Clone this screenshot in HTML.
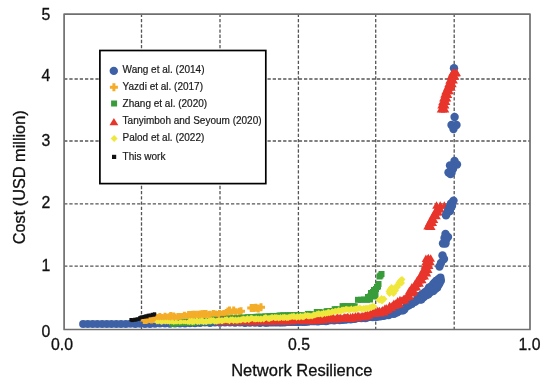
<!DOCTYPE html>
<html><head><meta charset="utf-8"><style>
html,body{margin:0;padding:0;background:#fff;}
svg{display:block;}
</style></head><body>
<svg width="550" height="387" viewBox="0 0 550 387">
<rect width="550" height="387" fill="#fff"/>
<g stroke="#555" stroke-width="1.3" stroke-dasharray="3.3 1.915">
<line x1="64.1" y1="79.0" x2="530.0" y2="79.0"/>
<line x1="64.1" y1="141.0" x2="530.0" y2="141.0"/>
<line x1="64.1" y1="203.8" x2="530.0" y2="203.8"/>
<line x1="64.1" y1="266.2" x2="530.0" y2="266.2"/>
<line x1="141.5" y1="14.1" x2="141.5" y2="329.5" stroke-dashoffset="0.35"/>
<line x1="220.0" y1="14.1" x2="220.0" y2="329.5" stroke-dashoffset="0.35"/>
<line x1="298.4" y1="14.1" x2="298.4" y2="329.5" stroke-dashoffset="0.35"/>
<line x1="375.7" y1="14.1" x2="375.7" y2="329.5" stroke-dashoffset="0.35"/>
<line x1="454.2" y1="14.1" x2="454.2" y2="329.5" stroke-dashoffset="0.35"/>
</g>
<g>
<circle cx="83.1" cy="323.9" r="4.0" fill="#3e61a6"/>
<circle cx="87.8" cy="323.9" r="4.0" fill="#3e61a6"/>
<circle cx="92.6" cy="323.9" r="4.0" fill="#3e61a6"/>
<circle cx="97.3" cy="323.9" r="4.0" fill="#3e61a6"/>
<circle cx="102.1" cy="323.9" r="4.0" fill="#3e61a6"/>
<circle cx="106.8" cy="323.9" r="4.0" fill="#3e61a6"/>
<circle cx="111.5" cy="324.0" r="4.0" fill="#3e61a6"/>
<circle cx="116.3" cy="323.9" r="4.0" fill="#3e61a6"/>
<circle cx="121.0" cy="324.0" r="4.0" fill="#3e61a6"/>
<circle cx="125.8" cy="323.9" r="4.0" fill="#3e61a6"/>
<circle cx="130.5" cy="323.8" r="4.0" fill="#3e61a6"/>
<circle cx="135.3" cy="323.9" r="4.0" fill="#3e61a6"/>
<circle cx="140.0" cy="323.8" r="4.0" fill="#3e61a6"/>
<circle cx="145.0" cy="323.9" r="4.0" fill="#3e61a6"/>
<circle cx="150.0" cy="323.9" r="4.0" fill="#3e61a6"/>
<circle cx="155.0" cy="323.8" r="4.0" fill="#3e61a6"/>
<circle cx="160.0" cy="323.6" r="4.0" fill="#3e61a6"/>
<circle cx="165.0" cy="323.6" r="4.0" fill="#3e61a6"/>
<circle cx="170.0" cy="323.7" r="4.0" fill="#3e61a6"/>
<circle cx="175.0" cy="323.6" r="4.0" fill="#3e61a6"/>
<circle cx="180.0" cy="323.4" r="4.0" fill="#3e61a6"/>
<circle cx="185.0" cy="323.4" r="4.0" fill="#3e61a6"/>
<circle cx="190.0" cy="323.2" r="4.0" fill="#3e61a6"/>
<circle cx="195.0" cy="323.3" r="4.0" fill="#3e61a6"/>
<circle cx="200.0" cy="322.9" r="4.0" fill="#3e61a6"/>
<circle cx="205.0" cy="322.6" r="4.0" fill="#3e61a6"/>
<circle cx="210.0" cy="322.9" r="4.0" fill="#3e61a6"/>
<circle cx="215.0" cy="322.6" r="4.0" fill="#3e61a6"/>
<circle cx="220.0" cy="322.7" r="4.0" fill="#3e61a6"/>
<circle cx="225.0" cy="322.6" r="4.0" fill="#3e61a6"/>
<circle cx="230.0" cy="322.5" r="4.0" fill="#3e61a6"/>
<circle cx="235.0" cy="322.7" r="4.0" fill="#3e61a6"/>
<circle cx="240.0" cy="322.6" r="4.0" fill="#3e61a6"/>
<circle cx="245.0" cy="322.9" r="4.0" fill="#3e61a6"/>
<circle cx="250.0" cy="322.7" r="4.0" fill="#3e61a6"/>
<circle cx="255.0" cy="322.7" r="4.0" fill="#3e61a6"/>
<circle cx="260.0" cy="322.9" r="4.0" fill="#3e61a6"/>
<circle cx="265.0" cy="322.6" r="4.0" fill="#3e61a6"/>
<circle cx="265.2" cy="322.5" r="4.0" fill="#3e61a6"/>
<circle cx="266.7" cy="322.7" r="4.0" fill="#3e61a6"/>
<circle cx="268.3" cy="322.5" r="4.0" fill="#3e61a6"/>
<circle cx="270.2" cy="322.2" r="4.0" fill="#3e61a6"/>
<circle cx="271.9" cy="322.6" r="4.0" fill="#3e61a6"/>
<circle cx="273.7" cy="322.3" r="4.0" fill="#3e61a6"/>
<circle cx="275.6" cy="322.6" r="4.0" fill="#3e61a6"/>
<circle cx="277.2" cy="322.3" r="4.0" fill="#3e61a6"/>
<circle cx="279.3" cy="322.6" r="4.0" fill="#3e61a6"/>
<circle cx="281.3" cy="322.5" r="4.0" fill="#3e61a6"/>
<circle cx="282.7" cy="322.2" r="4.0" fill="#3e61a6"/>
<circle cx="284.6" cy="322.5" r="4.0" fill="#3e61a6"/>
<circle cx="286.7" cy="321.9" r="4.0" fill="#3e61a6"/>
<circle cx="288.0" cy="321.9" r="4.0" fill="#3e61a6"/>
<circle cx="289.8" cy="322.1" r="4.0" fill="#3e61a6"/>
<circle cx="291.8" cy="321.9" r="4.0" fill="#3e61a6"/>
<circle cx="293.3" cy="321.9" r="4.0" fill="#3e61a6"/>
<circle cx="295.3" cy="322.0" r="4.0" fill="#3e61a6"/>
<circle cx="297.4" cy="322.1" r="4.0" fill="#3e61a6"/>
<circle cx="298.9" cy="322.0" r="4.0" fill="#3e61a6"/>
<circle cx="300.8" cy="321.5" r="4.0" fill="#3e61a6"/>
<circle cx="302.7" cy="322.0" r="4.0" fill="#3e61a6"/>
<circle cx="304.5" cy="322.0" r="4.0" fill="#3e61a6"/>
<circle cx="306.0" cy="321.6" r="4.0" fill="#3e61a6"/>
<circle cx="307.6" cy="321.8" r="4.0" fill="#3e61a6"/>
<circle cx="309.4" cy="321.3" r="4.0" fill="#3e61a6"/>
<circle cx="311.3" cy="321.3" r="4.0" fill="#3e61a6"/>
<circle cx="313.1" cy="321.2" r="4.0" fill="#3e61a6"/>
<circle cx="314.7" cy="321.2" r="4.0" fill="#3e61a6"/>
<circle cx="316.5" cy="321.3" r="4.0" fill="#3e61a6"/>
<circle cx="318.2" cy="321.6" r="4.0" fill="#3e61a6"/>
<circle cx="320.4" cy="320.9" r="4.0" fill="#3e61a6"/>
<circle cx="321.9" cy="320.9" r="4.0" fill="#3e61a6"/>
<circle cx="323.7" cy="320.6" r="4.0" fill="#3e61a6"/>
<circle cx="325.8" cy="321.2" r="4.0" fill="#3e61a6"/>
<circle cx="327.3" cy="320.7" r="4.0" fill="#3e61a6"/>
<circle cx="328.9" cy="320.2" r="4.0" fill="#3e61a6"/>
<circle cx="330.8" cy="320.2" r="4.0" fill="#3e61a6"/>
<circle cx="332.8" cy="320.0" r="4.0" fill="#3e61a6"/>
<circle cx="334.1" cy="320.6" r="4.0" fill="#3e61a6"/>
<circle cx="336.2" cy="319.8" r="4.0" fill="#3e61a6"/>
<circle cx="338.0" cy="319.5" r="4.0" fill="#3e61a6"/>
<circle cx="339.7" cy="320.3" r="4.0" fill="#3e61a6"/>
<circle cx="341.7" cy="319.9" r="4.0" fill="#3e61a6"/>
<circle cx="343.1" cy="319.5" r="4.0" fill="#3e61a6"/>
<circle cx="344.8" cy="319.8" r="4.0" fill="#3e61a6"/>
<circle cx="346.9" cy="319.6" r="4.0" fill="#3e61a6"/>
<circle cx="348.6" cy="318.9" r="4.0" fill="#3e61a6"/>
<circle cx="350.7" cy="319.5" r="4.0" fill="#3e61a6"/>
<circle cx="352.5" cy="319.1" r="4.0" fill="#3e61a6"/>
<circle cx="354.4" cy="318.9" r="4.0" fill="#3e61a6"/>
<circle cx="355.8" cy="318.5" r="4.0" fill="#3e61a6"/>
<circle cx="357.7" cy="317.9" r="4.0" fill="#3e61a6"/>
<circle cx="359.4" cy="317.9" r="4.0" fill="#3e61a6"/>
<circle cx="361.4" cy="318.2" r="4.0" fill="#3e61a6"/>
<circle cx="363.6" cy="317.8" r="4.0" fill="#3e61a6"/>
<circle cx="365.4" cy="318.2" r="4.0" fill="#3e61a6"/>
<circle cx="367.3" cy="317.4" r="4.0" fill="#3e61a6"/>
<circle cx="368.7" cy="317.0" r="4.0" fill="#3e61a6"/>
<circle cx="370.5" cy="316.8" r="4.0" fill="#3e61a6"/>
<circle cx="372.6" cy="317.3" r="4.0" fill="#3e61a6"/>
<circle cx="374.6" cy="316.7" r="4.0" fill="#3e61a6"/>
<circle cx="376.4" cy="316.9" r="4.0" fill="#3e61a6"/>
<circle cx="377.9" cy="316.5" r="4.0" fill="#3e61a6"/>
<circle cx="380.2" cy="316.5" r="4.0" fill="#3e61a6"/>
<circle cx="381.9" cy="315.9" r="4.0" fill="#3e61a6"/>
<circle cx="383.2" cy="315.9" r="4.0" fill="#3e61a6"/>
<circle cx="385.0" cy="315.6" r="4.0" fill="#3e61a6"/>
<circle cx="387.1" cy="314.8" r="4.0" fill="#3e61a6"/>
<circle cx="388.5" cy="315.3" r="4.0" fill="#3e61a6"/>
<circle cx="390.4" cy="313.8" r="4.0" fill="#3e61a6"/>
<circle cx="391.8" cy="313.4" r="4.0" fill="#3e61a6"/>
<circle cx="393.8" cy="313.9" r="4.0" fill="#3e61a6"/>
<circle cx="394.9" cy="313.3" r="4.0" fill="#3e61a6"/>
<circle cx="397.0" cy="312.4" r="4.0" fill="#3e61a6"/>
<circle cx="398.2" cy="311.5" r="4.0" fill="#3e61a6"/>
<circle cx="399.6" cy="309.9" r="4.0" fill="#3e61a6"/>
<circle cx="401.7" cy="310.4" r="4.0" fill="#3e61a6"/>
<circle cx="403.0" cy="310.4" r="4.0" fill="#3e61a6"/>
<circle cx="404.5" cy="309.2" r="4.0" fill="#3e61a6"/>
<circle cx="406.2" cy="306.7" r="4.0" fill="#3e61a6"/>
<circle cx="407.4" cy="305.8" r="4.0" fill="#3e61a6"/>
<circle cx="408.8" cy="305.4" r="4.0" fill="#3e61a6"/>
<circle cx="410.4" cy="304.0" r="4.0" fill="#3e61a6"/>
<circle cx="411.8" cy="304.0" r="4.0" fill="#3e61a6"/>
<circle cx="413.4" cy="301.9" r="4.0" fill="#3e61a6"/>
<circle cx="414.8" cy="301.9" r="4.0" fill="#3e61a6"/>
<circle cx="416.0" cy="300.9" r="4.0" fill="#3e61a6"/>
<circle cx="417.3" cy="298.8" r="4.0" fill="#3e61a6"/>
<circle cx="418.5" cy="296.3" r="4.0" fill="#3e61a6"/>
<circle cx="419.7" cy="295.7" r="4.0" fill="#3e61a6"/>
<circle cx="420.7" cy="296.4" r="4.0" fill="#3e61a6"/>
<circle cx="422.2" cy="294.2" r="4.0" fill="#3e61a6"/>
<circle cx="423.9" cy="293.3" r="4.0" fill="#3e61a6"/>
<circle cx="425.1" cy="292.0" r="4.0" fill="#3e61a6"/>
<circle cx="426.6" cy="291.6" r="4.0" fill="#3e61a6"/>
<circle cx="427.8" cy="289.7" r="4.0" fill="#3e61a6"/>
<circle cx="429.0" cy="287.6" r="4.0" fill="#3e61a6"/>
<circle cx="430.6" cy="286.9" r="4.0" fill="#3e61a6"/>
<circle cx="431.6" cy="286.3" r="4.0" fill="#3e61a6"/>
<circle cx="433.0" cy="284.2" r="4.0" fill="#3e61a6"/>
<circle cx="434.1" cy="283.0" r="4.0" fill="#3e61a6"/>
<circle cx="435.1" cy="282.3" r="4.0" fill="#3e61a6"/>
<circle cx="436.2" cy="280.8" r="4.0" fill="#3e61a6"/>
<circle cx="437.4" cy="280.4" r="4.0" fill="#3e61a6"/>
<circle cx="438.6" cy="279.1" r="4.0" fill="#3e61a6"/>
<circle cx="440.5" cy="277.5" r="4.0" fill="#3e61a6"/>
<circle cx="420.3" cy="299.8" r="4.0" fill="#3e61a6"/>
<circle cx="421.4" cy="299.4" r="4.0" fill="#3e61a6"/>
<circle cx="422.9" cy="297.6" r="4.0" fill="#3e61a6"/>
<circle cx="423.8" cy="296.9" r="4.0" fill="#3e61a6"/>
<circle cx="425.1" cy="295.7" r="4.0" fill="#3e61a6"/>
<circle cx="426.4" cy="295.2" r="4.0" fill="#3e61a6"/>
<circle cx="428.2" cy="294.4" r="4.0" fill="#3e61a6"/>
<circle cx="429.4" cy="293.1" r="4.0" fill="#3e61a6"/>
<circle cx="431.3" cy="291.4" r="4.0" fill="#3e61a6"/>
<circle cx="433.0" cy="291.2" r="4.0" fill="#3e61a6"/>
<circle cx="434.2" cy="290.1" r="4.0" fill="#3e61a6"/>
<circle cx="435.9" cy="288.5" r="4.0" fill="#3e61a6"/>
<circle cx="437.3" cy="287.5" r="4.0" fill="#3e61a6"/>
<circle cx="437.8" cy="285.7" r="4.0" fill="#3e61a6"/>
<circle cx="439.0" cy="284.2" r="4.0" fill="#3e61a6"/>
<circle cx="439.8" cy="282.8" r="4.0" fill="#3e61a6"/>
<circle cx="441.0" cy="280.5" r="4.0" fill="#3e61a6"/>
<path d="M142.8 315.9h3v2.5h2.5v3h-2.5v2.5h-3v-2.5h-2.5v-3h2.5Z" fill="#f4ad28"/>
<path d="M144.6 315.9h3v2.5h2.5v3h-2.5v2.5h-3v-2.5h-2.5v-3h2.5Z" fill="#f4ad28"/>
<path d="M145.9 315.2h3v2.5h2.5v3h-2.5v2.5h-3v-2.5h-2.5v-3h2.5Z" fill="#f4ad28"/>
<path d="M148.6 315.0h3v2.5h2.5v3h-2.5v2.5h-3v-2.5h-2.5v-3h2.5Z" fill="#f4ad28"/>
<path d="M150.0 315.4h3v2.5h2.5v3h-2.5v2.5h-3v-2.5h-2.5v-3h2.5Z" fill="#f4ad28"/>
<path d="M152.8 315.1h3v2.5h2.5v3h-2.5v2.5h-3v-2.5h-2.5v-3h2.5Z" fill="#f4ad28"/>
<path d="M154.0 313.6h3v2.5h2.5v3h-2.5v2.5h-3v-2.5h-2.5v-3h2.5Z" fill="#f4ad28"/>
<path d="M155.9 314.0h3v2.5h2.5v3h-2.5v2.5h-3v-2.5h-2.5v-3h2.5Z" fill="#f4ad28"/>
<path d="M158.4 312.9h3v2.5h2.5v3h-2.5v2.5h-3v-2.5h-2.5v-3h2.5Z" fill="#f4ad28"/>
<path d="M160.8 314.0h3v2.5h2.5v3h-2.5v2.5h-3v-2.5h-2.5v-3h2.5Z" fill="#f4ad28"/>
<path d="M163.5 312.8h3v2.5h2.5v3h-2.5v2.5h-3v-2.5h-2.5v-3h2.5Z" fill="#f4ad28"/>
<path d="M164.9 313.8h3v2.5h2.5v3h-2.5v2.5h-3v-2.5h-2.5v-3h2.5Z" fill="#f4ad28"/>
<path d="M167.6 313.3h3v2.5h2.5v3h-2.5v2.5h-3v-2.5h-2.5v-3h2.5Z" fill="#f4ad28"/>
<path d="M169.2 312.0h3v2.5h2.5v3h-2.5v2.5h-3v-2.5h-2.5v-3h2.5Z" fill="#f4ad28"/>
<path d="M172.1 312.5h3v2.5h2.5v3h-2.5v2.5h-3v-2.5h-2.5v-3h2.5Z" fill="#f4ad28"/>
<path d="M173.6 313.4h3v2.5h2.5v3h-2.5v2.5h-3v-2.5h-2.5v-3h2.5Z" fill="#f4ad28"/>
<path d="M176.5 313.0h3v2.5h2.5v3h-2.5v2.5h-3v-2.5h-2.5v-3h2.5Z" fill="#f4ad28"/>
<path d="M178.0 313.0h3v2.5h2.5v3h-2.5v2.5h-3v-2.5h-2.5v-3h2.5Z" fill="#f4ad28"/>
<path d="M180.2 312.9h3v2.5h2.5v3h-2.5v2.5h-3v-2.5h-2.5v-3h2.5Z" fill="#f4ad28"/>
<path d="M182.9 311.7h3v2.5h2.5v3h-2.5v2.5h-3v-2.5h-2.5v-3h2.5Z" fill="#f4ad28"/>
<path d="M185.2 312.7h3v2.5h2.5v3h-2.5v2.5h-3v-2.5h-2.5v-3h2.5Z" fill="#f4ad28"/>
<path d="M187.1 311.0h3v2.5h2.5v3h-2.5v2.5h-3v-2.5h-2.5v-3h2.5Z" fill="#f4ad28"/>
<path d="M189.6 311.1h3v2.5h2.5v3h-2.5v2.5h-3v-2.5h-2.5v-3h2.5Z" fill="#f4ad28"/>
<path d="M191.4 310.8h3v2.5h2.5v3h-2.5v2.5h-3v-2.5h-2.5v-3h2.5Z" fill="#f4ad28"/>
<path d="M193.5 310.7h3v2.5h2.5v3h-2.5v2.5h-3v-2.5h-2.5v-3h2.5Z" fill="#f4ad28"/>
<path d="M196.1 310.8h3v2.5h2.5v3h-2.5v2.5h-3v-2.5h-2.5v-3h2.5Z" fill="#f4ad28"/>
<path d="M198.8 310.6h3v2.5h2.5v3h-2.5v2.5h-3v-2.5h-2.5v-3h2.5Z" fill="#f4ad28"/>
<path d="M200.6 310.3h3v2.5h2.5v3h-2.5v2.5h-3v-2.5h-2.5v-3h2.5Z" fill="#f4ad28"/>
<path d="M202.6 309.9h3v2.5h2.5v3h-2.5v2.5h-3v-2.5h-2.5v-3h2.5Z" fill="#f4ad28"/>
<path d="M204.6 309.9h3v2.5h2.5v3h-2.5v2.5h-3v-2.5h-2.5v-3h2.5Z" fill="#f4ad28"/>
<path d="M207.4 310.9h3v2.5h2.5v3h-2.5v2.5h-3v-2.5h-2.5v-3h2.5Z" fill="#f4ad28"/>
<path d="M208.8 310.7h3v2.5h2.5v3h-2.5v2.5h-3v-2.5h-2.5v-3h2.5Z" fill="#f4ad28"/>
<path d="M211.9 309.9h3v2.5h2.5v3h-2.5v2.5h-3v-2.5h-2.5v-3h2.5Z" fill="#f4ad28"/>
<path d="M213.9 310.5h3v2.5h2.5v3h-2.5v2.5h-3v-2.5h-2.5v-3h2.5Z" fill="#f4ad28"/>
<path d="M215.8 310.9h3v2.5h2.5v3h-2.5v2.5h-3v-2.5h-2.5v-3h2.5Z" fill="#f4ad28"/>
<path d="M218.0 309.9h3v2.5h2.5v3h-2.5v2.5h-3v-2.5h-2.5v-3h2.5Z" fill="#f4ad28"/>
<path d="M220.7 310.7h3v2.5h2.5v3h-2.5v2.5h-3v-2.5h-2.5v-3h2.5Z" fill="#f4ad28"/>
<path d="M222.3 309.9h3v2.5h2.5v3h-2.5v2.5h-3v-2.5h-2.5v-3h2.5Z" fill="#f4ad28"/>
<path d="M224.7 308.9h3v2.5h2.5v3h-2.5v2.5h-3v-2.5h-2.5v-3h2.5Z" fill="#f4ad28"/>
<path d="M226.4 307.5h3v2.5h2.5v3h-2.5v2.5h-3v-2.5h-2.5v-3h2.5Z" fill="#f4ad28"/>
<path d="M228.0 306.6h3v2.5h2.5v3h-2.5v2.5h-3v-2.5h-2.5v-3h2.5Z" fill="#f4ad28"/>
<path d="M230.0 308.4h3v2.5h2.5v3h-2.5v2.5h-3v-2.5h-2.5v-3h2.5Z" fill="#f4ad28"/>
<path d="M232.2 306.6h3v2.5h2.5v3h-2.5v2.5h-3v-2.5h-2.5v-3h2.5Z" fill="#f4ad28"/>
<path d="M234.3 308.2h3v2.5h2.5v3h-2.5v2.5h-3v-2.5h-2.5v-3h2.5Z" fill="#f4ad28"/>
<path d="M237.6 307.7h3v2.5h2.5v3h-2.5v2.5h-3v-2.5h-2.5v-3h2.5Z" fill="#f4ad28"/>
<path d="M239.5 307.3h3v2.5h2.5v3h-2.5v2.5h-3v-2.5h-2.5v-3h2.5Z" fill="#f4ad28"/>
<path d="M249.7 303.9h3v2.5h2.5v3h-2.5v2.5h-3v-2.5h-2.5v-3h2.5Z" fill="#f4ad28"/>
<path d="M252.1 304.0h3v2.5h2.5v3h-2.5v2.5h-3v-2.5h-2.5v-3h2.5Z" fill="#f4ad28"/>
<path d="M254.3 303.7h3v2.5h2.5v3h-2.5v2.5h-3v-2.5h-2.5v-3h2.5Z" fill="#f4ad28"/>
<path d="M256.8 304.6h3v2.5h2.5v3h-2.5v2.5h-3v-2.5h-2.5v-3h2.5Z" fill="#f4ad28"/>
<path d="M259.5 303.3h3v2.5h2.5v3h-2.5v2.5h-3v-2.5h-2.5v-3h2.5Z" fill="#f4ad28"/>
<rect x="169.5" y="320.5" width="6" height="6" fill="#399c3b"/>
<rect x="170.5" y="320.7" width="6" height="6" fill="#399c3b"/>
<rect x="172.4" y="320.2" width="6" height="6" fill="#399c3b"/>
<rect x="173.9" y="320.1" width="6" height="6" fill="#399c3b"/>
<rect x="176.2" y="320.1" width="6" height="6" fill="#399c3b"/>
<rect x="177.7" y="320.0" width="6" height="6" fill="#399c3b"/>
<rect x="179.3" y="319.7" width="6" height="6" fill="#399c3b"/>
<rect x="181.2" y="319.7" width="6" height="6" fill="#399c3b"/>
<rect x="182.9" y="319.3" width="6" height="6" fill="#399c3b"/>
<rect x="185.0" y="319.3" width="6" height="6" fill="#399c3b"/>
<rect x="187.1" y="319.5" width="6" height="6" fill="#399c3b"/>
<rect x="189.0" y="319.5" width="6" height="6" fill="#399c3b"/>
<rect x="190.7" y="319.6" width="6" height="6" fill="#399c3b"/>
<rect x="192.1" y="318.9" width="6" height="6" fill="#399c3b"/>
<rect x="194.5" y="318.5" width="6" height="6" fill="#399c3b"/>
<rect x="196.0" y="318.9" width="6" height="6" fill="#399c3b"/>
<rect x="197.0" y="319.0" width="6" height="6" fill="#399c3b"/>
<rect x="199.6" y="318.6" width="6" height="6" fill="#399c3b"/>
<rect x="201.2" y="318.7" width="6" height="6" fill="#399c3b"/>
<rect x="202.4" y="318.2" width="6" height="6" fill="#399c3b"/>
<rect x="204.5" y="318.4" width="6" height="6" fill="#399c3b"/>
<rect x="206.6" y="318.3" width="6" height="6" fill="#399c3b"/>
<rect x="208.1" y="318.2" width="6" height="6" fill="#399c3b"/>
<rect x="209.9" y="317.8" width="6" height="6" fill="#399c3b"/>
<rect x="211.2" y="316.7" width="6" height="6" fill="#399c3b"/>
<rect x="212.9" y="317.0" width="6" height="6" fill="#399c3b"/>
<rect x="214.6" y="317.6" width="6" height="6" fill="#399c3b"/>
<rect x="216.8" y="317.1" width="6" height="6" fill="#399c3b"/>
<rect x="218.6" y="317.1" width="6" height="6" fill="#399c3b"/>
<rect x="220.2" y="315.9" width="6" height="6" fill="#399c3b"/>
<rect x="222.3" y="316.9" width="6" height="6" fill="#399c3b"/>
<rect x="223.8" y="316.4" width="6" height="6" fill="#399c3b"/>
<rect x="225.7" y="315.6" width="6" height="6" fill="#399c3b"/>
<rect x="227.5" y="315.7" width="6" height="6" fill="#399c3b"/>
<rect x="228.6" y="315.6" width="6" height="6" fill="#399c3b"/>
<rect x="231.0" y="315.4" width="6" height="6" fill="#399c3b"/>
<rect x="232.7" y="316.3" width="6" height="6" fill="#399c3b"/>
<rect x="234.2" y="315.4" width="6" height="6" fill="#399c3b"/>
<rect x="236.0" y="315.6" width="6" height="6" fill="#399c3b"/>
<rect x="238.0" y="315.4" width="6" height="6" fill="#399c3b"/>
<rect x="239.6" y="314.7" width="6" height="6" fill="#399c3b"/>
<rect x="240.9" y="314.8" width="6" height="6" fill="#399c3b"/>
<rect x="243.2" y="314.7" width="6" height="6" fill="#399c3b"/>
<rect x="244.8" y="314.3" width="6" height="6" fill="#399c3b"/>
<rect x="246.1" y="314.4" width="6" height="6" fill="#399c3b"/>
<rect x="248.4" y="314.6" width="6" height="6" fill="#399c3b"/>
<rect x="250.2" y="314.2" width="6" height="6" fill="#399c3b"/>
<rect x="251.8" y="314.2" width="6" height="6" fill="#399c3b"/>
<rect x="253.5" y="313.8" width="6" height="6" fill="#399c3b"/>
<rect x="255.6" y="313.7" width="6" height="6" fill="#399c3b"/>
<rect x="257.5" y="314.1" width="6" height="6" fill="#399c3b"/>
<rect x="258.3" y="313.7" width="6" height="6" fill="#399c3b"/>
<rect x="260.8" y="313.9" width="6" height="6" fill="#399c3b"/>
<rect x="262.2" y="313.4" width="6" height="6" fill="#399c3b"/>
<rect x="263.8" y="313.7" width="6" height="6" fill="#399c3b"/>
<rect x="265.5" y="313.4" width="6" height="6" fill="#399c3b"/>
<rect x="267.2" y="313.2" width="6" height="6" fill="#399c3b"/>
<rect x="269.8" y="312.9" width="6" height="6" fill="#399c3b"/>
<rect x="271.4" y="313.1" width="6" height="6" fill="#399c3b"/>
<rect x="273.3" y="313.1" width="6" height="6" fill="#399c3b"/>
<rect x="274.4" y="313.1" width="6" height="6" fill="#399c3b"/>
<rect x="276.4" y="312.5" width="6" height="6" fill="#399c3b"/>
<rect x="277.7" y="312.7" width="6" height="6" fill="#399c3b"/>
<rect x="279.9" y="312.5" width="6" height="6" fill="#399c3b"/>
<rect x="281.3" y="312.4" width="6" height="6" fill="#399c3b"/>
<rect x="283.3" y="312.6" width="6" height="6" fill="#399c3b"/>
<rect x="284.7" y="312.4" width="6" height="6" fill="#399c3b"/>
<rect x="287.0" y="312.2" width="6" height="6" fill="#399c3b"/>
<rect x="290.2" y="312.2" width="6" height="6" fill="#399c3b"/>
<rect x="292.3" y="312.5" width="6" height="6" fill="#399c3b"/>
<rect x="294.2" y="312.3" width="6" height="6" fill="#399c3b"/>
<rect x="295.9" y="312.4" width="6" height="6" fill="#399c3b"/>
<rect x="298.3" y="312.4" width="6" height="6" fill="#399c3b"/>
<rect x="299.9" y="312.4" width="6" height="6" fill="#399c3b"/>
<rect x="304.9" y="310.9" width="6" height="6" fill="#399c3b"/>
<rect x="306.8" y="311.2" width="6" height="6" fill="#399c3b"/>
<rect x="308.9" y="311.3" width="6" height="6" fill="#399c3b"/>
<rect x="313.8" y="309.0" width="6" height="6" fill="#399c3b"/>
<rect x="316.0" y="309.0" width="6" height="6" fill="#399c3b"/>
<rect x="317.9" y="309.3" width="6" height="6" fill="#399c3b"/>
<rect x="323.7" y="308.2" width="6" height="6" fill="#399c3b"/>
<rect x="325.6" y="308.3" width="6" height="6" fill="#399c3b"/>
<rect x="327.8" y="308.1" width="6" height="6" fill="#399c3b"/>
<rect x="331.7" y="306.2" width="6" height="6" fill="#399c3b"/>
<rect x="333.7" y="306.4" width="6" height="6" fill="#399c3b"/>
<rect x="335.8" y="306.5" width="6" height="6" fill="#399c3b"/>
<rect x="339.6" y="303.1" width="6" height="6" fill="#399c3b"/>
<rect x="342.0" y="303.2" width="6" height="6" fill="#399c3b"/>
<rect x="343.7" y="303.2" width="6" height="6" fill="#399c3b"/>
<rect x="345.6" y="303.4" width="6" height="6" fill="#399c3b"/>
<rect x="348.0" y="303.2" width="6" height="6" fill="#399c3b"/>
<rect x="349.8" y="303.2" width="6" height="6" fill="#399c3b"/>
<rect x="351.7" y="303.3" width="6" height="6" fill="#399c3b"/>
<rect x="355.0" y="296.8" width="6" height="6" fill="#399c3b"/>
<rect x="358.0" y="296.8" width="6" height="6" fill="#399c3b"/>
<rect x="361.0" y="296.5" width="6" height="6" fill="#399c3b"/>
<rect x="364.0" y="296.8" width="6" height="6" fill="#399c3b"/>
<rect x="367.0" y="296.5" width="6" height="6" fill="#399c3b"/>
<rect x="365.0" y="294.0" width="6" height="6" fill="#399c3b"/>
<rect x="367.0" y="293.5" width="6" height="6" fill="#399c3b"/>
<rect x="368.0" y="290.0" width="6" height="6" fill="#399c3b"/>
<rect x="370.0" y="289.0" width="6" height="6" fill="#399c3b"/>
<rect x="371.0" y="287.0" width="6" height="6" fill="#399c3b"/>
<rect x="373.0" y="286.0" width="6" height="6" fill="#399c3b"/>
<rect x="374.0" y="284.0" width="6" height="6" fill="#399c3b"/>
<rect x="375.0" y="283.5" width="6" height="6" fill="#399c3b"/>
<rect x="375.5" y="281.0" width="6" height="6" fill="#399c3b"/>
<rect x="372.0" y="293.5" width="6" height="6" fill="#399c3b"/>
<rect x="372.5" y="291.0" width="6" height="6" fill="#399c3b"/>
<rect x="376.5" y="273.5" width="6" height="6" fill="#399c3b"/>
<rect x="378.5" y="271.0" width="6" height="6" fill="#399c3b"/>
<rect x="377.5" y="272.5" width="6" height="6" fill="#399c3b"/>
<path d="M217.6 316.6L221.9 324.1L213.4 324.1Z" fill="#e8352b"/>
<path d="M218.8 317.2L223.0 324.7L214.5 324.7Z" fill="#e8352b"/>
<path d="M220.2 316.7L224.5 324.2L216.0 324.2Z" fill="#e8352b"/>
<path d="M221.8 317.3L226.1 324.8L217.6 324.8Z" fill="#e8352b"/>
<path d="M222.4 316.6L226.6 324.1L218.1 324.1Z" fill="#e8352b"/>
<path d="M223.2 316.6L227.4 324.1L218.9 324.1Z" fill="#e8352b"/>
<path d="M224.4 316.6L228.7 324.1L220.2 324.1Z" fill="#e8352b"/>
<path d="M225.4 316.8L229.7 324.3L221.2 324.3Z" fill="#e8352b"/>
<path d="M226.9 317.3L231.2 324.8L222.7 324.8Z" fill="#e8352b"/>
<path d="M228.2 316.9L232.5 324.4L224.0 324.4Z" fill="#e8352b"/>
<path d="M228.9 317.0L233.2 324.5L224.7 324.5Z" fill="#e8352b"/>
<path d="M230.0 316.9L234.3 324.4L225.8 324.4Z" fill="#e8352b"/>
<path d="M230.7 316.8L235.0 324.3L226.5 324.3Z" fill="#e8352b"/>
<path d="M232.9 316.7L237.2 324.2L228.7 324.2Z" fill="#e8352b"/>
<path d="M233.5 317.2L237.7 324.7L229.2 324.7Z" fill="#e8352b"/>
<path d="M235.0 316.8L239.3 324.3L230.8 324.3Z" fill="#e8352b"/>
<path d="M235.4 316.9L239.7 324.4L231.2 324.4Z" fill="#e8352b"/>
<path d="M236.7 317.1L240.9 324.6L232.4 324.6Z" fill="#e8352b"/>
<path d="M238.4 317.4L242.7 324.9L234.2 324.9Z" fill="#e8352b"/>
<path d="M239.4 316.7L243.7 324.2L235.2 324.2Z" fill="#e8352b"/>
<path d="M239.5 317.4L243.8 324.9L235.3 324.9Z" fill="#e8352b"/>
<path d="M241.7 317.2L245.9 324.7L237.4 324.7Z" fill="#e8352b"/>
<path d="M242.4 316.7L246.7 324.2L238.2 324.2Z" fill="#e8352b"/>
<path d="M243.3 317.6L247.5 325.1L239.0 325.1Z" fill="#e8352b"/>
<path d="M244.9 317.6L249.2 325.1L240.7 325.1Z" fill="#e8352b"/>
<path d="M246.2 317.0L250.4 324.5L241.9 324.5Z" fill="#e8352b"/>
<path d="M246.3 316.9L250.5 324.4L242.0 324.4Z" fill="#e8352b"/>
<path d="M247.9 317.4L252.1 324.9L243.6 324.9Z" fill="#e8352b"/>
<path d="M249.5 317.5L253.7 325.0L245.2 325.0Z" fill="#e8352b"/>
<path d="M250.2 317.6L254.5 325.1L246.0 325.1Z" fill="#e8352b"/>
<path d="M251.1 317.4L255.4 324.9L246.9 324.9Z" fill="#e8352b"/>
<path d="M251.7 317.6L256.0 325.1L247.5 325.1Z" fill="#e8352b"/>
<path d="M253.0 317.8L257.3 325.3L248.8 325.3Z" fill="#e8352b"/>
<path d="M254.6 317.2L258.9 324.7L250.4 324.7Z" fill="#e8352b"/>
<path d="M255.1 317.1L259.4 324.6L250.9 324.6Z" fill="#e8352b"/>
<path d="M256.8 317.6L261.1 325.1L252.6 325.1Z" fill="#e8352b"/>
<path d="M257.3 317.0L261.6 324.5L253.1 324.5Z" fill="#e8352b"/>
<path d="M258.9 317.5L263.2 325.0L254.7 325.0Z" fill="#e8352b"/>
<path d="M259.9 317.2L264.1 324.7L255.6 324.7Z" fill="#e8352b"/>
<path d="M261.2 316.9L265.5 324.4L257.0 324.4Z" fill="#e8352b"/>
<path d="M262.0 317.3L266.2 324.8L257.7 324.8Z" fill="#e8352b"/>
<path d="M263.9 317.4L268.1 324.9L259.6 324.9Z" fill="#e8352b"/>
<path d="M264.9 317.2L269.2 324.7L260.7 324.7Z" fill="#e8352b"/>
<path d="M265.2 316.9L269.5 324.4L261.0 324.4Z" fill="#e8352b"/>
<path d="M267.2 317.4L271.5 324.9L263.0 324.9Z" fill="#e8352b"/>
<path d="M267.5 316.5L271.8 324.0L263.3 324.0Z" fill="#e8352b"/>
<path d="M268.9 317.2L273.1 324.7L264.6 324.7Z" fill="#e8352b"/>
<path d="M269.9 316.7L274.2 324.2L265.7 324.2Z" fill="#e8352b"/>
<path d="M271.3 317.5L275.6 325.0L267.1 325.0Z" fill="#e8352b"/>
<path d="M271.9 316.3L276.1 323.8L267.6 323.8Z" fill="#e8352b"/>
<path d="M273.1 316.7L277.4 324.2L268.9 324.2Z" fill="#e8352b"/>
<path d="M274.7 316.4L278.9 323.9L270.4 323.9Z" fill="#e8352b"/>
<path d="M275.9 317.0L280.2 324.5L271.7 324.5Z" fill="#e8352b"/>
<path d="M276.7 316.3L280.9 323.8L272.4 323.8Z" fill="#e8352b"/>
<path d="M278.3 316.4L282.6 323.9L274.1 323.9Z" fill="#e8352b"/>
<path d="M279.3 316.2L283.5 323.7L275.0 323.7Z" fill="#e8352b"/>
<path d="M279.7 316.9L283.9 324.4L275.4 324.4Z" fill="#e8352b"/>
<path d="M280.9 317.1L285.1 324.6L276.6 324.6Z" fill="#e8352b"/>
<path d="M282.2 316.0L286.5 323.5L278.0 323.5Z" fill="#e8352b"/>
<path d="M283.0 316.2L287.3 323.7L278.8 323.7Z" fill="#e8352b"/>
<path d="M284.6 317.0L288.9 324.5L280.4 324.5Z" fill="#e8352b"/>
<path d="M285.1 316.1L289.4 323.6L280.9 323.6Z" fill="#e8352b"/>
<path d="M286.3 316.9L290.6 324.4L282.1 324.4Z" fill="#e8352b"/>
<path d="M287.3 315.5L291.6 323.0L283.1 323.0Z" fill="#e8352b"/>
<path d="M288.4 315.9L292.6 323.4L284.1 323.4Z" fill="#e8352b"/>
<path d="M290.5 316.7L294.7 324.2L286.2 324.2Z" fill="#e8352b"/>
<path d="M291.4 316.8L295.6 324.3L287.1 324.3Z" fill="#e8352b"/>
<path d="M292.7 315.8L296.9 323.3L288.4 323.3Z" fill="#e8352b"/>
<path d="M292.9 316.7L297.1 324.2L288.6 324.2Z" fill="#e8352b"/>
<path d="M294.6 315.2L298.9 322.7L290.4 322.7Z" fill="#e8352b"/>
<path d="M295.6 315.8L299.9 323.3L291.4 323.3Z" fill="#e8352b"/>
<path d="M296.4 315.7L300.6 323.2L292.1 323.2Z" fill="#e8352b"/>
<path d="M297.2 315.1L301.5 322.6L293.0 322.6Z" fill="#e8352b"/>
<path d="M298.4 315.7L302.7 323.2L294.2 323.2Z" fill="#e8352b"/>
<path d="M300.3 315.3L304.6 322.8L296.1 322.8Z" fill="#e8352b"/>
<path d="M301.4 315.4L305.7 322.9L297.2 322.9Z" fill="#e8352b"/>
<path d="M301.8 316.5L306.0 324.0L297.5 324.0Z" fill="#e8352b"/>
<path d="M303.4 315.8L307.7 323.3L299.2 323.3Z" fill="#e8352b"/>
<path d="M303.6 315.9L307.8 323.4L299.3 323.4Z" fill="#e8352b"/>
<path d="M305.1 316.7L309.3 324.2L300.8 324.2Z" fill="#e8352b"/>
<path d="M305.9 315.7L310.2 323.2L301.7 323.2Z" fill="#e8352b"/>
<path d="M307.9 315.0L312.1 322.5L303.6 322.5Z" fill="#e8352b"/>
<path d="M308.4 316.5L312.6 324.0L304.1 324.0Z" fill="#e8352b"/>
<path d="M309.9 315.0L314.1 322.5L305.6 322.5Z" fill="#e8352b"/>
<path d="M310.1 315.0L314.3 322.5L305.8 322.5Z" fill="#e8352b"/>
<path d="M312.2 315.4L316.5 322.9L308.0 322.9Z" fill="#e8352b"/>
<path d="M313.1 316.7L317.4 324.2L308.9 324.2Z" fill="#e8352b"/>
<path d="M313.7 315.4L318.0 322.9L309.5 322.9Z" fill="#e8352b"/>
<path d="M315.5 316.1L319.8 323.6L311.3 323.6Z" fill="#e8352b"/>
<path d="M315.8 316.2L320.0 323.7L311.5 323.7Z" fill="#e8352b"/>
<path d="M316.9 315.2L321.2 322.7L312.7 322.7Z" fill="#e8352b"/>
<path d="M317.6 316.0L321.9 323.5L313.4 323.5Z" fill="#e8352b"/>
<path d="M319.8 315.7L324.0 323.2L315.5 323.2Z" fill="#e8352b"/>
<path d="M320.9 314.3L325.1 321.8L316.6 321.8Z" fill="#e8352b"/>
<path d="M321.1 315.1L325.4 322.6L316.9 322.6Z" fill="#e8352b"/>
<path d="M323.0 316.0L327.3 323.5L318.8 323.5Z" fill="#e8352b"/>
<path d="M323.4 314.4L327.7 321.9L319.2 321.9Z" fill="#e8352b"/>
<path d="M324.6 314.8L328.8 322.3L320.3 322.3Z" fill="#e8352b"/>
<path d="M326.2 314.1L330.5 321.6L322.0 321.6Z" fill="#e8352b"/>
<path d="M327.1 315.1L331.4 322.6L322.9 322.6Z" fill="#e8352b"/>
<path d="M328.2 315.0L332.5 322.5L324.0 322.5Z" fill="#e8352b"/>
<path d="M329.1 314.0L333.3 321.5L324.8 321.5Z" fill="#e8352b"/>
<path d="M329.8 314.0L334.0 321.5L325.5 321.5Z" fill="#e8352b"/>
<path d="M331.4 313.4L335.7 320.9L327.2 320.9Z" fill="#e8352b"/>
<path d="M331.8 314.7L336.0 322.2L327.5 322.2Z" fill="#e8352b"/>
<path d="M332.9 313.3L337.2 320.8L328.7 320.8Z" fill="#e8352b"/>
<path d="M333.7 314.2L338.0 321.7L329.5 321.7Z" fill="#e8352b"/>
<path d="M335.1 315.1L339.4 322.6L330.9 322.6Z" fill="#e8352b"/>
<path d="M336.9 315.1L341.1 322.6L332.6 322.6Z" fill="#e8352b"/>
<path d="M337.2 313.2L341.5 320.7L333.0 320.7Z" fill="#e8352b"/>
<path d="M338.1 314.0L342.3 321.5L333.8 321.5Z" fill="#e8352b"/>
<path d="M339.9 313.9L344.1 321.4L335.6 321.4Z" fill="#e8352b"/>
<path d="M340.4 313.8L344.6 321.3L336.1 321.3Z" fill="#e8352b"/>
<path d="M341.9 314.3L346.2 321.8L337.7 321.8Z" fill="#e8352b"/>
<path d="M343.2 314.6L347.4 322.1L338.9 322.1Z" fill="#e8352b"/>
<path d="M344.1 313.1L348.4 320.6L339.9 320.6Z" fill="#e8352b"/>
<path d="M345.4 313.4L349.7 320.9L341.2 320.9Z" fill="#e8352b"/>
<path d="M346.2 313.5L350.4 321.0L341.9 321.0Z" fill="#e8352b"/>
<path d="M347.5 313.0L351.7 320.5L343.2 320.5Z" fill="#e8352b"/>
<path d="M348.0 313.0L352.2 320.5L343.7 320.5Z" fill="#e8352b"/>
<path d="M349.0 314.3L353.2 321.8L344.7 321.8Z" fill="#e8352b"/>
<path d="M350.6 312.9L354.8 320.4L346.3 320.4Z" fill="#e8352b"/>
<path d="M351.5 314.4L355.7 321.9L347.2 321.9Z" fill="#e8352b"/>
<path d="M352.7 312.5L357.0 320.0L348.5 320.0Z" fill="#e8352b"/>
<path d="M354.2 313.4L358.4 320.9L349.9 320.9Z" fill="#e8352b"/>
<path d="M355.5 311.9L359.7 319.4L351.2 319.4Z" fill="#e8352b"/>
<path d="M356.0 313.6L360.2 321.1L351.7 321.1Z" fill="#e8352b"/>
<path d="M357.5 313.8L361.8 321.3L353.3 321.3Z" fill="#e8352b"/>
<path d="M357.6 312.1L361.9 319.6L353.4 319.6Z" fill="#e8352b"/>
<path d="M358.8 311.7L363.1 319.2L354.6 319.2Z" fill="#e8352b"/>
<path d="M361.0 312.6L365.2 320.1L356.7 320.1Z" fill="#e8352b"/>
<path d="M362.0 311.9L366.3 319.4L357.8 319.4Z" fill="#e8352b"/>
<path d="M363.0 312.0L367.3 319.5L358.8 319.5Z" fill="#e8352b"/>
<path d="M363.4 312.9L367.7 320.4L359.2 320.4Z" fill="#e8352b"/>
<path d="M365.3 310.8L369.6 318.3L361.1 318.3Z" fill="#e8352b"/>
<path d="M366.0 312.2L370.3 319.7L361.8 319.7Z" fill="#e8352b"/>
<path d="M366.7 311.4L370.9 318.9L362.4 318.9Z" fill="#e8352b"/>
<path d="M367.6 310.5L371.9 318.0L363.4 318.0Z" fill="#e8352b"/>
<path d="M368.8 311.4L373.1 318.9L364.6 318.9Z" fill="#e8352b"/>
<path d="M370.4 309.7L374.6 317.2L366.1 317.2Z" fill="#e8352b"/>
<path d="M370.6 309.8L374.9 317.3L366.4 317.3Z" fill="#e8352b"/>
<path d="M372.5 308.9L376.8 316.4L368.3 316.4Z" fill="#e8352b"/>
<path d="M373.1 308.6L377.4 316.1L368.9 316.1Z" fill="#e8352b"/>
<path d="M374.8 309.4L379.0 316.9L370.5 316.9Z" fill="#e8352b"/>
<path d="M374.9 307.5L379.2 315.0L370.7 315.0Z" fill="#e8352b"/>
<path d="M376.4 308.8L380.7 316.3L372.2 316.3Z" fill="#e8352b"/>
<path d="M377.8 306.8L382.0 314.3L373.5 314.3Z" fill="#e8352b"/>
<path d="M378.2 308.6L382.5 316.1L374.0 316.1Z" fill="#e8352b"/>
<path d="M379.6 306.7L383.8 314.2L375.3 314.2Z" fill="#e8352b"/>
<path d="M380.5 308.9L384.8 316.4L376.3 316.4Z" fill="#e8352b"/>
<path d="M381.6 307.1L385.8 314.6L377.3 314.6Z" fill="#e8352b"/>
<path d="M382.7 306.1L387.0 313.6L378.5 313.6Z" fill="#e8352b"/>
<path d="M384.4 308.1L388.6 315.6L380.1 315.6Z" fill="#e8352b"/>
<path d="M384.8 304.5L389.1 312.0L380.6 312.0Z" fill="#e8352b"/>
<path d="M386.2 304.0L390.5 311.5L382.0 311.5Z" fill="#e8352b"/>
<path d="M386.3 306.3L390.5 313.8L382.0 313.8Z" fill="#e8352b"/>
<path d="M387.7 305.4L391.9 312.9L383.4 312.9Z" fill="#e8352b"/>
<path d="M388.6 305.1L392.9 312.6L384.4 312.6Z" fill="#e8352b"/>
<path d="M389.6 301.8L393.8 309.3L385.3 309.3Z" fill="#e8352b"/>
<path d="M390.0 302.7L394.2 310.2L385.7 310.2Z" fill="#e8352b"/>
<path d="M391.7 303.6L395.9 311.1L387.4 311.1Z" fill="#e8352b"/>
<path d="M391.9 301.9L396.2 309.4L387.7 309.4Z" fill="#e8352b"/>
<path d="M393.2 300.9L397.5 308.4L389.0 308.4Z" fill="#e8352b"/>
<path d="M393.9 299.6L398.1 307.1L389.6 307.1Z" fill="#e8352b"/>
<path d="M395.2 301.4L399.5 308.9L391.0 308.9Z" fill="#e8352b"/>
<path d="M395.7 299.3L399.9 306.8L391.4 306.8Z" fill="#e8352b"/>
<path d="M397.4 300.5L401.7 308.0L393.2 308.0Z" fill="#e8352b"/>
<path d="M397.6 296.9L401.9 304.4L393.4 304.4Z" fill="#e8352b"/>
<path d="M399.5 299.5L403.8 307.0L395.3 307.0Z" fill="#e8352b"/>
<path d="M400.0 295.8L404.2 303.3L395.7 303.3Z" fill="#e8352b"/>
<path d="M401.5 296.5L405.8 304.0L397.3 304.0Z" fill="#e8352b"/>
<path d="M402.5 296.8L406.7 304.3L398.2 304.3Z" fill="#e8352b"/>
<path d="M403.4 294.9L407.6 302.4L399.1 302.4Z" fill="#e8352b"/>
<path d="M404.3 294.6L408.6 302.1L400.1 302.1Z" fill="#e8352b"/>
<path d="M404.9 296.1L409.1 303.6L400.6 303.6Z" fill="#e8352b"/>
<path d="M406.3 293.4L410.5 300.9L402.0 300.9Z" fill="#e8352b"/>
<path d="M406.2 293.3L410.5 300.8L402.0 300.8Z" fill="#e8352b"/>
<path d="M407.5 292.6L411.8 300.1L403.3 300.1Z" fill="#e8352b"/>
<path d="M407.6 291.6L411.8 299.1L403.3 299.1Z" fill="#e8352b"/>
<path d="M409.7 292.3L413.9 299.8L405.4 299.8Z" fill="#e8352b"/>
<path d="M408.9 290.9L413.1 298.4L404.6 298.4Z" fill="#e8352b"/>
<path d="M411.4 289.1L415.7 296.6L407.2 296.6Z" fill="#e8352b"/>
<path d="M412.4 288.4L416.7 295.9L408.2 295.9Z" fill="#e8352b"/>
<path d="M412.5 288.2L416.8 295.7L408.3 295.7Z" fill="#e8352b"/>
<path d="M413.0 287.2L417.2 294.8L408.8 294.8Z" fill="#e8352b"/>
<path d="M409.4 286.6L413.6 294.1L405.1 294.1Z" fill="#e8352b"/>
<path d="M411.7 286.8L415.9 294.3L407.4 294.3Z" fill="#e8352b"/>
<path d="M414.1 286.8L418.3 294.3L409.8 294.3Z" fill="#e8352b"/>
<path d="M411.9 283.1L416.2 290.6L407.7 290.6Z" fill="#e8352b"/>
<path d="M414.1 283.2L418.3 290.7L409.8 290.7Z" fill="#e8352b"/>
<path d="M416.8 283.0L421.0 290.5L412.5 290.5Z" fill="#e8352b"/>
<path d="M415.0 279.7L419.3 287.2L410.8 287.2Z" fill="#e8352b"/>
<path d="M417.2 279.4L421.5 286.9L413.0 286.9Z" fill="#e8352b"/>
<path d="M419.6 279.3L423.9 286.8L415.4 286.8Z" fill="#e8352b"/>
<path d="M417.3 275.9L421.6 283.4L413.1 283.4Z" fill="#e8352b"/>
<path d="M419.7 275.9L423.9 283.4L415.4 283.4Z" fill="#e8352b"/>
<path d="M422.3 275.7L426.6 283.2L418.1 283.2Z" fill="#e8352b"/>
<path d="M420.0 272.1L424.2 279.6L415.7 279.6Z" fill="#e8352b"/>
<path d="M422.4 272.5L426.7 280.0L418.2 280.0Z" fill="#e8352b"/>
<path d="M424.7 272.1L429.0 279.6L420.5 279.6Z" fill="#e8352b"/>
<path d="M422.0 268.7L426.3 276.2L417.8 276.2Z" fill="#e8352b"/>
<path d="M424.7 268.5L428.9 276.0L420.4 276.0Z" fill="#e8352b"/>
<path d="M427.0 269.0L431.3 276.5L422.8 276.5Z" fill="#e8352b"/>
<path d="M423.6 265.3L427.8 272.8L419.3 272.8Z" fill="#e8352b"/>
<path d="M425.6 265.4L429.9 272.9L421.4 272.9Z" fill="#e8352b"/>
<path d="M428.2 265.4L432.5 272.9L424.0 272.9Z" fill="#e8352b"/>
<path d="M425.0 261.3L429.2 268.8L420.7 268.8Z" fill="#e8352b"/>
<path d="M427.3 261.8L431.6 269.3L423.1 269.3Z" fill="#e8352b"/>
<path d="M429.3 261.5L433.5 269.0L425.0 269.0Z" fill="#e8352b"/>
<path d="M425.7 257.7L429.9 265.2L421.4 265.2Z" fill="#e8352b"/>
<path d="M428.1 257.8L432.4 265.3L423.9 265.3Z" fill="#e8352b"/>
<path d="M430.5 257.7L434.7 265.2L426.2 265.2Z" fill="#e8352b"/>
<path d="M425.9 254.6L430.2 262.1L421.7 262.1Z" fill="#e8352b"/>
<path d="M428.2 254.2L432.4 261.7L423.9 261.7Z" fill="#e8352b"/>
<path d="M430.7 254.2L435.0 261.7L426.5 261.7Z" fill="#e8352b"/>
<path d="M428.4 253.9L432.6 261.4L424.1 261.4Z" fill="#e8352b"/>
<path d="M427.5 222.0L431.8 229.5L423.3 229.5Z" fill="#e8352b"/>
<path d="M429.3 222.4L433.5 229.9L425.0 229.9Z" fill="#e8352b"/>
<path d="M431.3 222.4L435.6 229.9L427.1 229.9Z" fill="#e8352b"/>
<path d="M429.1 218.8L433.4 226.3L424.9 226.3Z" fill="#e8352b"/>
<path d="M430.8 218.7L435.0 226.2L426.5 226.2Z" fill="#e8352b"/>
<path d="M432.8 218.6L437.1 226.1L428.6 226.1Z" fill="#e8352b"/>
<path d="M431.1 215.2L435.3 222.7L426.8 222.7Z" fill="#e8352b"/>
<path d="M432.6 215.4L436.9 222.9L428.4 222.9Z" fill="#e8352b"/>
<path d="M434.0 215.4L438.3 222.9L429.8 222.9Z" fill="#e8352b"/>
<path d="M433.0 211.6L437.2 219.1L428.7 219.1Z" fill="#e8352b"/>
<path d="M434.8 211.5L439.0 219.0L430.5 219.0Z" fill="#e8352b"/>
<path d="M436.6 211.7L440.8 219.2L432.3 219.2Z" fill="#e8352b"/>
<path d="M434.8 208.3L439.1 215.8L430.6 215.8Z" fill="#e8352b"/>
<path d="M436.6 208.0L440.8 215.5L432.3 215.5Z" fill="#e8352b"/>
<path d="M438.5 207.9L442.7 215.4L434.2 215.4Z" fill="#e8352b"/>
<path d="M437.1 204.5L441.4 212.0L432.9 212.0Z" fill="#e8352b"/>
<path d="M438.7 204.9L443.0 212.4L434.5 212.4Z" fill="#e8352b"/>
<path d="M440.4 204.7L444.6 212.2L436.1 212.2Z" fill="#e8352b"/>
<path d="M436.5 201.2L440.8 208.8L432.2 208.8Z" fill="#e8352b"/>
<path d="M440.2 201.2L444.4 208.8L435.9 208.8Z" fill="#e8352b"/>
<path d="M444.3 201.2L448.6 208.8L440.1 208.8Z" fill="#e8352b"/>
<path d="M156.8 319.4L159.3 321.9L156.8 324.4L154.3 321.9Z" fill="#efe73c"/>
<path d="M158.1 319.5L160.6 322.0L158.1 324.5L155.6 322.0Z" fill="#efe73c"/>
<path d="M160.3 319.6L162.8 322.1L160.3 324.6L157.8 322.1Z" fill="#efe73c"/>
<path d="M161.7 319.9L164.2 322.4L161.7 324.9L159.2 322.4Z" fill="#efe73c"/>
<path d="M162.9 319.5L165.4 322.0L162.9 324.5L160.4 322.0Z" fill="#efe73c"/>
<path d="M165.0 319.4L167.5 321.9L165.0 324.4L162.5 321.9Z" fill="#efe73c"/>
<path d="M165.9 319.6L168.4 322.1L165.9 324.6L163.4 322.1Z" fill="#efe73c"/>
<path d="M167.6 319.5L170.1 322.0L167.6 324.5L165.1 322.0Z" fill="#efe73c"/>
<path d="M169.3 319.7L171.8 322.2L169.3 324.7L166.8 322.2Z" fill="#efe73c"/>
<path d="M171.2 319.4L173.7 321.9L171.2 324.4L168.7 321.9Z" fill="#efe73c"/>
<path d="M172.8 319.6L175.3 322.1L172.8 324.6L170.3 322.1Z" fill="#efe73c"/>
<path d="M173.9 319.9L176.4 322.4L173.9 324.9L171.4 322.4Z" fill="#efe73c"/>
<path d="M175.6 319.4L178.1 321.9L175.6 324.4L173.1 321.9Z" fill="#efe73c"/>
<path d="M177.0 319.7L179.5 322.2L177.0 324.7L174.5 322.2Z" fill="#efe73c"/>
<path d="M179.4 319.7L181.9 322.2L179.4 324.7L176.9 322.2Z" fill="#efe73c"/>
<path d="M180.5 319.4L183.0 321.9L180.5 324.4L178.0 321.9Z" fill="#efe73c"/>
<path d="M181.7 319.6L184.2 322.1L181.7 324.6L179.2 322.1Z" fill="#efe73c"/>
<path d="M183.8 319.4L186.3 321.9L183.8 324.4L181.3 321.9Z" fill="#efe73c"/>
<path d="M185.4 319.5L187.9 322.0L185.4 324.5L182.9 322.0Z" fill="#efe73c"/>
<path d="M187.3 319.7L189.8 322.2L187.3 324.7L184.8 322.2Z" fill="#efe73c"/>
<path d="M188.2 319.8L190.7 322.3L188.2 324.8L185.7 322.3Z" fill="#efe73c"/>
<path d="M190.0 319.5L192.5 322.0L190.0 324.5L187.5 322.0Z" fill="#efe73c"/>
<path d="M189.5 318.1L193.0 321.6L189.5 325.1L186.0 321.6Z" fill="#efe73c"/>
<path d="M191.5 317.8L195.0 321.3L191.5 324.8L188.0 321.3Z" fill="#efe73c"/>
<path d="M192.7 318.3L196.2 321.8L192.7 325.3L189.2 321.8Z" fill="#efe73c"/>
<path d="M194.2 318.0L197.7 321.5L194.2 325.0L190.7 321.5Z" fill="#efe73c"/>
<path d="M196.7 317.6L200.2 321.1L196.7 324.6L193.2 321.1Z" fill="#efe73c"/>
<path d="M197.5 318.0L201.0 321.5L197.5 325.0L194.0 321.5Z" fill="#efe73c"/>
<path d="M199.4 318.0L202.9 321.5L199.4 325.0L195.9 321.5Z" fill="#efe73c"/>
<path d="M201.3 317.5L204.8 321.0L201.3 324.5L197.8 321.0Z" fill="#efe73c"/>
<path d="M202.3 317.6L205.8 321.1L202.3 324.6L198.8 321.1Z" fill="#efe73c"/>
<path d="M203.6 318.2L207.1 321.7L203.6 325.2L200.1 321.7Z" fill="#efe73c"/>
<path d="M205.9 318.0L209.4 321.5L205.9 325.0L202.4 321.5Z" fill="#efe73c"/>
<path d="M206.7 318.1L210.2 321.6L206.7 325.1L203.2 321.6Z" fill="#efe73c"/>
<path d="M209.0 317.6L212.5 321.1L209.0 324.6L205.5 321.1Z" fill="#efe73c"/>
<path d="M210.6 317.6L214.1 321.1L210.6 324.6L207.1 321.1Z" fill="#efe73c"/>
<path d="M211.6 317.1L215.1 320.6L211.6 324.1L208.1 320.6Z" fill="#efe73c"/>
<path d="M213.2 317.0L216.7 320.5L213.2 324.0L209.7 320.5Z" fill="#efe73c"/>
<path d="M214.8 317.8L218.3 321.3L214.8 324.8L211.3 321.3Z" fill="#efe73c"/>
<path d="M216.8 317.8L220.3 321.3L216.8 324.8L213.3 321.3Z" fill="#efe73c"/>
<path d="M218.3 317.0L221.8 320.5L218.3 324.0L214.8 320.5Z" fill="#efe73c"/>
<path d="M219.7 317.1L223.2 320.6L219.7 324.1L216.2 320.6Z" fill="#efe73c"/>
<path d="M221.5 317.2L225.0 320.7L221.5 324.2L218.0 320.7Z" fill="#efe73c"/>
<path d="M222.6 317.2L226.1 320.7L222.6 324.2L219.1 320.7Z" fill="#efe73c"/>
<path d="M224.8 316.6L228.3 320.1L224.8 323.6L221.3 320.1Z" fill="#efe73c"/>
<path d="M226.3 316.2L229.8 319.7L226.3 323.2L222.8 319.7Z" fill="#efe73c"/>
<path d="M227.3 316.4L230.8 319.9L227.3 323.4L223.8 319.9Z" fill="#efe73c"/>
<path d="M229.3 317.3L232.8 320.8L229.3 324.3L225.8 320.8Z" fill="#efe73c"/>
<path d="M230.9 316.3L234.4 319.8L230.9 323.3L227.4 319.8Z" fill="#efe73c"/>
<path d="M232.6 316.2L236.1 319.7L232.6 323.2L229.1 319.7Z" fill="#efe73c"/>
<path d="M233.5 317.0L237.0 320.5L233.5 324.0L230.0 320.5Z" fill="#efe73c"/>
<path d="M235.4 316.6L238.9 320.1L235.4 323.6L231.9 320.1Z" fill="#efe73c"/>
<path d="M237.0 316.9L240.5 320.4L237.0 323.9L233.5 320.4Z" fill="#efe73c"/>
<path d="M238.4 316.6L241.9 320.1L238.4 323.6L234.9 320.1Z" fill="#efe73c"/>
<path d="M240.2 316.6L243.7 320.1L240.2 323.6L236.7 320.1Z" fill="#efe73c"/>
<path d="M241.5 316.3L245.0 319.8L241.5 323.3L238.0 319.8Z" fill="#efe73c"/>
<path d="M243.1 315.5L246.6 319.0L243.1 322.5L239.6 319.0Z" fill="#efe73c"/>
<path d="M244.3 316.0L247.8 319.5L244.3 323.0L240.8 319.5Z" fill="#efe73c"/>
<path d="M245.7 316.3L249.2 319.8L245.7 323.3L242.2 319.8Z" fill="#efe73c"/>
<path d="M247.3 314.9L250.8 318.4L247.3 321.9L243.8 318.4Z" fill="#efe73c"/>
<path d="M248.8 316.2L252.3 319.7L248.8 323.2L245.3 319.7Z" fill="#efe73c"/>
<path d="M250.6 314.9L254.1 318.4L250.6 321.9L247.1 318.4Z" fill="#efe73c"/>
<path d="M251.8 314.7L255.3 318.2L251.8 321.7L248.3 318.2Z" fill="#efe73c"/>
<path d="M254.0 315.5L257.5 319.0L254.0 322.5L250.5 319.0Z" fill="#efe73c"/>
<path d="M255.6 315.6L259.1 319.1L255.6 322.6L252.1 319.1Z" fill="#efe73c"/>
<path d="M256.5 315.3L260.0 318.8L256.5 322.3L253.0 318.8Z" fill="#efe73c"/>
<path d="M258.3 315.5L261.8 319.0L258.3 322.5L254.8 319.0Z" fill="#efe73c"/>
<path d="M260.3 315.5L263.8 319.0L260.3 322.5L256.8 319.0Z" fill="#efe73c"/>
<path d="M261.1 315.4L264.6 318.9L261.1 322.4L257.6 318.9Z" fill="#efe73c"/>
<path d="M263.6 315.5L267.1 319.0L263.6 322.5L260.1 319.0Z" fill="#efe73c"/>
<path d="M264.3 314.4L267.8 317.9L264.3 321.4L260.8 317.9Z" fill="#efe73c"/>
<path d="M265.9 314.1L269.4 317.6L265.9 321.1L262.4 317.6Z" fill="#efe73c"/>
<path d="M268.2 315.1L271.7 318.6L268.2 322.1L264.7 318.6Z" fill="#efe73c"/>
<path d="M269.6 315.0L273.1 318.5L269.6 322.0L266.1 318.5Z" fill="#efe73c"/>
<path d="M271.2 314.2L274.7 317.7L271.2 321.2L267.7 317.7Z" fill="#efe73c"/>
<path d="M272.2 313.9L275.7 317.4L272.2 320.9L268.7 317.4Z" fill="#efe73c"/>
<path d="M274.5 314.0L278.0 317.5L274.5 321.0L271.0 317.5Z" fill="#efe73c"/>
<path d="M275.6 314.2L279.1 317.7L275.6 321.2L272.1 317.7Z" fill="#efe73c"/>
<path d="M276.9 313.9L280.4 317.4L276.9 320.9L273.4 317.4Z" fill="#efe73c"/>
<path d="M278.7 314.5L282.2 318.0L278.7 321.5L275.2 318.0Z" fill="#efe73c"/>
<path d="M280.4 313.9L283.9 317.4L280.4 320.9L276.9 317.4Z" fill="#efe73c"/>
<path d="M282.6 314.0L286.1 317.5L282.6 321.0L279.1 317.5Z" fill="#efe73c"/>
<path d="M284.0 314.1L287.5 317.6L284.0 321.1L280.5 317.6Z" fill="#efe73c"/>
<path d="M284.8 313.8L288.3 317.3L284.8 320.8L281.3 317.3Z" fill="#efe73c"/>
<path d="M286.8 314.2L290.3 317.7L286.8 321.2L283.3 317.7Z" fill="#efe73c"/>
<path d="M288.3 314.0L291.8 317.5L288.3 321.0L284.8 317.5Z" fill="#efe73c"/>
<path d="M290.0 313.4L293.5 316.9L290.0 320.4L286.5 316.9Z" fill="#efe73c"/>
<path d="M291.9 313.1L295.4 316.6L291.9 320.1L288.4 316.6Z" fill="#efe73c"/>
<path d="M293.4 313.0L296.9 316.5L293.4 320.0L289.9 316.5Z" fill="#efe73c"/>
<path d="M294.2 312.9L297.7 316.4L294.2 319.9L290.7 316.4Z" fill="#efe73c"/>
<path d="M296.5 313.8L300.0 317.3L296.5 320.8L293.0 317.3Z" fill="#efe73c"/>
<path d="M297.3 313.1L300.8 316.6L297.3 320.1L293.8 316.6Z" fill="#efe73c"/>
<path d="M299.4 313.4L302.9 316.9L299.4 320.4L295.9 316.9Z" fill="#efe73c"/>
<path d="M300.6 312.8L304.1 316.3L300.6 319.8L297.1 316.3Z" fill="#efe73c"/>
<path d="M302.3 313.2L305.8 316.7L302.3 320.2L298.8 316.7Z" fill="#efe73c"/>
<path d="M303.8 313.3L307.3 316.8L303.8 320.3L300.3 316.8Z" fill="#efe73c"/>
<path d="M305.4 312.0L308.9 315.5L305.4 319.0L301.9 315.5Z" fill="#efe73c"/>
<path d="M307.4 312.3L310.9 315.8L307.4 319.3L303.9 315.8Z" fill="#efe73c"/>
<path d="M308.4 312.4L311.9 315.9L308.4 319.4L304.9 315.9Z" fill="#efe73c"/>
<path d="M309.9 312.6L313.4 316.1L309.9 319.6L306.4 316.1Z" fill="#efe73c"/>
<path d="M312.1 312.4L315.6 315.9L312.1 319.4L308.6 315.9Z" fill="#efe73c"/>
<path d="M313.6 311.6L317.1 315.1L313.6 318.6L310.1 315.1Z" fill="#efe73c"/>
<path d="M314.9 311.5L318.4 315.0L314.9 318.5L311.4 315.0Z" fill="#efe73c"/>
<path d="M316.9 310.7L320.4 314.2L316.9 317.7L313.4 314.2Z" fill="#efe73c"/>
<path d="M318.4 310.3L321.9 313.8L318.4 317.3L314.9 313.8Z" fill="#efe73c"/>
<path d="M319.2 310.4L322.7 313.9L319.2 317.4L315.7 313.9Z" fill="#efe73c"/>
<path d="M321.4 310.5L324.9 314.0L321.4 317.5L317.9 314.0Z" fill="#efe73c"/>
<path d="M322.4 310.8L325.9 314.3L322.4 317.8L318.9 314.3Z" fill="#efe73c"/>
<path d="M323.7 309.8L327.2 313.3L323.7 316.8L320.2 313.3Z" fill="#efe73c"/>
<path d="M325.5 310.0L329.0 313.5L325.5 317.0L322.0 313.5Z" fill="#efe73c"/>
<path d="M327.3 309.5L330.8 313.0L327.3 316.5L323.8 313.0Z" fill="#efe73c"/>
<path d="M328.3 308.8L331.8 312.3L328.3 315.8L324.8 312.3Z" fill="#efe73c"/>
<path d="M329.7 309.2L333.2 312.7L329.7 316.2L326.2 312.7Z" fill="#efe73c"/>
<path d="M331.7 308.8L335.2 312.3L331.7 315.8L328.2 312.3Z" fill="#efe73c"/>
<path d="M332.7 308.2L336.2 311.7L332.7 315.2L329.2 311.7Z" fill="#efe73c"/>
<path d="M334.9 308.1L338.4 311.6L334.9 315.1L331.4 311.6Z" fill="#efe73c"/>
<path d="M335.8 307.8L339.3 311.3L335.8 314.8L332.3 311.3Z" fill="#efe73c"/>
<path d="M338.1 307.2L341.6 310.7L338.1 314.2L334.6 310.7Z" fill="#efe73c"/>
<path d="M338.9 307.1L342.4 310.6L338.9 314.1L335.4 310.6Z" fill="#efe73c"/>
<path d="M341.0 307.6L344.5 311.1L341.0 314.6L337.5 311.1Z" fill="#efe73c"/>
<path d="M342.0 306.4L345.5 309.9L342.0 313.4L338.5 309.9Z" fill="#efe73c"/>
<path d="M343.6 306.4L347.1 309.9L343.6 313.4L340.1 309.9Z" fill="#efe73c"/>
<path d="M345.4 306.0L348.9 309.5L345.4 313.0L341.9 309.5Z" fill="#efe73c"/>
<path d="M346.8 305.8L350.3 309.3L346.8 312.8L343.3 309.3Z" fill="#efe73c"/>
<path d="M348.9 306.3L352.4 309.8L348.9 313.3L345.4 309.8Z" fill="#efe73c"/>
<path d="M349.6 306.4L353.1 309.9L349.6 313.4L346.1 309.9Z" fill="#efe73c"/>
<path d="M351.3 305.5L354.8 309.0L351.3 312.5L347.8 309.0Z" fill="#efe73c"/>
<path d="M353.8 306.0L357.3 309.5L353.8 313.0L350.3 309.5Z" fill="#efe73c"/>
<path d="M355.2 305.4L358.7 308.9L355.2 312.4L351.7 308.9Z" fill="#efe73c"/>
<path d="M356.4 305.6L359.9 309.1L356.4 312.6L352.9 309.1Z" fill="#efe73c"/>
<path d="M357.9 304.9L361.4 308.4L357.9 311.9L354.4 308.4Z" fill="#efe73c"/>
<path d="M359.9 304.6L363.4 308.1L359.9 311.6L356.4 308.1Z" fill="#efe73c"/>
<path d="M361.6 305.6L365.1 309.1L361.6 312.6L358.1 309.1Z" fill="#efe73c"/>
<path d="M363.5 305.1L367.0 308.6L363.5 312.1L360.0 308.6Z" fill="#efe73c"/>
<path d="M365.1 304.9L368.6 308.4L365.1 311.9L361.6 308.4Z" fill="#efe73c"/>
<path d="M366.1 304.8L369.6 308.3L366.1 311.8L362.6 308.3Z" fill="#efe73c"/>
<path d="M367.9 304.7L371.4 308.2L367.9 311.7L364.4 308.2Z" fill="#efe73c"/>
<path d="M369.9 303.9L373.4 307.4L369.9 310.9L366.4 307.4Z" fill="#efe73c"/>
<path d="M371.1 304.1L374.6 307.6L371.1 311.1L367.6 307.6Z" fill="#efe73c"/>
<path d="M372.4 302.9L375.9 306.4L372.4 309.9L368.9 306.4Z" fill="#efe73c"/>
<path d="M374.0 303.0L377.5 306.5L374.0 310.0L370.5 306.5Z" fill="#efe73c"/>
<path d="M379.0 296.5L382.5 300.0L379.0 303.5L375.5 300.0Z" fill="#efe73c"/>
<path d="M382.0 297.5L385.5 301.0L382.0 304.5L378.5 301.0Z" fill="#efe73c"/>
<path d="M384.0 295.5L387.5 299.0L384.0 302.5L380.5 299.0Z" fill="#efe73c"/>
<path d="M381.5 295.0L385.0 298.5L381.5 302.0L378.0 298.5Z" fill="#efe73c"/>
<path d="M389.5 290.0L393.0 293.5L389.5 297.0L386.0 293.5Z" fill="#efe73c"/>
<path d="M392.0 287.5L395.5 291.0L392.0 294.5L388.5 291.0Z" fill="#efe73c"/>
<path d="M394.5 285.0L398.0 288.5L394.5 292.0L391.0 288.5Z" fill="#efe73c"/>
<path d="M390.0 286.0L393.5 289.5L390.0 293.0L386.5 289.5Z" fill="#efe73c"/>
<path d="M393.5 290.0L397.0 293.5L393.5 297.0L390.0 293.5Z" fill="#efe73c"/>
<path d="M396.0 283.0L399.5 286.5L396.0 290.0L392.5 286.5Z" fill="#efe73c"/>
<path d="M389.0 288.0L392.5 291.5L389.0 295.0L385.5 291.5Z" fill="#efe73c"/>
<path d="M395.5 287.0L399.0 290.5L395.5 294.0L392.0 290.5Z" fill="#efe73c"/>
<path d="M397.5 283.5L401.0 287.0L397.5 290.5L394.0 287.0Z" fill="#efe73c"/>
<path d="M391.5 284.0L395.0 287.5L391.5 291.0L388.0 287.5Z" fill="#efe73c"/>
<path d="M400.5 277.0L404.0 280.5L400.5 284.0L397.0 280.5Z" fill="#efe73c"/>
<path d="M402.0 276.0L405.5 279.5L402.0 283.0L398.5 279.5Z" fill="#efe73c"/>
<path d="M399.0 279.0L402.5 282.5L399.0 286.0L395.5 282.5Z" fill="#efe73c"/>
<path d="M401.5 279.5L405.0 283.0L401.5 286.5L398.0 283.0Z" fill="#efe73c"/>
<path d="M398.5 281.0L402.0 284.5L398.5 288.0L395.0 284.5Z" fill="#efe73c"/>
<circle cx="442.5" cy="255.5" r="4.2" fill="#3e61a6"/>
<circle cx="444.0" cy="259.0" r="4.2" fill="#3e61a6"/>
<circle cx="441.0" cy="263.0" r="4.2" fill="#3e61a6"/>
<circle cx="439.5" cy="266.5" r="4.2" fill="#3e61a6"/>
<circle cx="445.5" cy="234.0" r="4.2" fill="#3e61a6"/>
<circle cx="448.0" cy="237.0" r="4.2" fill="#3e61a6"/>
<circle cx="446.0" cy="240.0" r="4.2" fill="#3e61a6"/>
<circle cx="443.0" cy="243.5" r="4.2" fill="#3e61a6"/>
<circle cx="445.5" cy="243.5" r="4.2" fill="#3e61a6"/>
<circle cx="444.5" cy="238.0" r="4.2" fill="#3e61a6"/>
<circle cx="453.5" cy="200.6" r="4.2" fill="#3e61a6"/>
<circle cx="451.0" cy="203.5" r="4.2" fill="#3e61a6"/>
<circle cx="452.0" cy="206.0" r="4.2" fill="#3e61a6"/>
<circle cx="449.5" cy="207.0" r="4.2" fill="#3e61a6"/>
<circle cx="448.0" cy="210.5" r="4.2" fill="#3e61a6"/>
<circle cx="450.0" cy="211.0" r="4.2" fill="#3e61a6"/>
<circle cx="446.5" cy="214.0" r="4.2" fill="#3e61a6"/>
<circle cx="446.0" cy="215.4" r="4.2" fill="#3e61a6"/>
<circle cx="454.5" cy="161.0" r="4.2" fill="#3e61a6"/>
<circle cx="457.0" cy="164.5" r="4.2" fill="#3e61a6"/>
<circle cx="450.0" cy="165.5" r="4.2" fill="#3e61a6"/>
<circle cx="453.0" cy="169.0" r="4.2" fill="#3e61a6"/>
<circle cx="448.5" cy="172.5" r="4.2" fill="#3e61a6"/>
<circle cx="451.5" cy="173.0" r="4.2" fill="#3e61a6"/>
<circle cx="450.5" cy="174.0" r="4.2" fill="#3e61a6"/>
<circle cx="454.6" cy="117.0" r="4.2" fill="#3e61a6"/>
<circle cx="451.5" cy="125.0" r="4.2" fill="#3e61a6"/>
<circle cx="456.5" cy="125.0" r="4.2" fill="#3e61a6"/>
<circle cx="453.5" cy="129.0" r="4.2" fill="#3e61a6"/>
<circle cx="454.0" cy="68.2" r="4.2" fill="#3e61a6"/>
<path d="M440.9 105.0L445.2 112.5L436.7 112.5Z" fill="#e8352b"/>
<path d="M443.0 104.9L447.2 112.4L438.7 112.4Z" fill="#e8352b"/>
<path d="M445.0 104.9L449.3 112.4L440.8 112.4Z" fill="#e8352b"/>
<path d="M441.5 101.1L445.8 108.6L437.3 108.6Z" fill="#e8352b"/>
<path d="M443.4 101.2L447.6 108.7L439.1 108.7Z" fill="#e8352b"/>
<path d="M445.2 101.1L449.5 108.6L441.0 108.6Z" fill="#e8352b"/>
<path d="M442.4 97.7L446.6 105.2L438.1 105.2Z" fill="#e8352b"/>
<path d="M444.3 97.4L448.5 104.9L440.0 104.9Z" fill="#e8352b"/>
<path d="M446.2 97.5L450.4 105.0L441.9 105.0Z" fill="#e8352b"/>
<path d="M443.3 93.9L447.6 101.4L439.1 101.4Z" fill="#e8352b"/>
<path d="M445.3 94.2L449.6 101.7L441.1 101.7Z" fill="#e8352b"/>
<path d="M447.0 94.0L451.3 101.5L442.8 101.5Z" fill="#e8352b"/>
<path d="M444.5 90.3L448.8 97.8L440.3 97.8Z" fill="#e8352b"/>
<path d="M446.4 90.6L450.6 98.1L442.1 98.1Z" fill="#e8352b"/>
<path d="M448.1 90.4L452.3 97.9L443.8 97.9Z" fill="#e8352b"/>
<path d="M445.6 86.9L449.8 94.4L441.3 94.4Z" fill="#e8352b"/>
<path d="M448.1 86.8L452.3 94.3L443.8 94.3Z" fill="#e8352b"/>
<path d="M449.6 86.8L453.8 94.3L445.3 94.3Z" fill="#e8352b"/>
<path d="M447.3 83.3L451.5 90.8L443.0 90.8Z" fill="#e8352b"/>
<path d="M449.2 83.2L453.5 90.7L445.0 90.7Z" fill="#e8352b"/>
<path d="M451.4 83.2L455.7 90.7L447.2 90.7Z" fill="#e8352b"/>
<path d="M448.5 79.8L452.7 87.3L444.2 87.3Z" fill="#e8352b"/>
<path d="M450.4 79.7L454.6 87.2L446.1 87.2Z" fill="#e8352b"/>
<path d="M452.5 79.7L456.7 87.2L448.2 87.2Z" fill="#e8352b"/>
<path d="M449.5 76.2L453.8 83.7L445.3 83.7Z" fill="#e8352b"/>
<path d="M451.7 75.7L455.9 83.2L447.4 83.2Z" fill="#e8352b"/>
<path d="M453.6 75.9L457.9 83.4L449.4 83.4Z" fill="#e8352b"/>
<path d="M450.8 72.3L455.1 79.8L446.6 79.8Z" fill="#e8352b"/>
<path d="M453.1 72.5L457.3 80.0L448.8 80.0Z" fill="#e8352b"/>
<path d="M455.0 72.2L459.3 79.7L450.8 79.7Z" fill="#e8352b"/>
<path d="M452.4 68.9L456.6 76.4L448.1 76.4Z" fill="#e8352b"/>
<path d="M454.8 68.8L459.0 76.3L450.5 76.3Z" fill="#e8352b"/>
<path d="M456.4 68.9L460.6 76.4L452.1 76.4Z" fill="#e8352b"/>
<path d="M453.0 68.5L457.2 76.0L448.8 76.0Z" fill="#e8352b"/>
<path d="M456.5 68.5L460.8 76.0L452.2 76.0Z" fill="#e8352b"/>
<rect x="129.4" y="318.0" width="3.4" height="3.4" fill="#111111"/>
<rect x="130.4" y="318.7" width="3.4" height="3.4" fill="#111111"/>
<rect x="132.3" y="318.2" width="3.4" height="3.4" fill="#111111"/>
<rect x="133.2" y="317.7" width="3.4" height="3.4" fill="#111111"/>
<rect x="134.2" y="318.2" width="3.4" height="3.4" fill="#111111"/>
<rect x="135.6" y="317.3" width="3.4" height="3.4" fill="#111111"/>
<rect x="137.3" y="317.4" width="3.4" height="3.4" fill="#111111"/>
<rect x="138.2" y="316.1" width="3.4" height="3.4" fill="#111111"/>
<rect x="139.6" y="315.4" width="3.4" height="3.4" fill="#111111"/>
<rect x="141.1" y="315.6" width="3.4" height="3.4" fill="#111111"/>
<rect x="142.4" y="315.1" width="3.4" height="3.4" fill="#111111"/>
<rect x="143.2" y="314.8" width="3.4" height="3.4" fill="#111111"/>
<rect x="144.4" y="314.3" width="3.4" height="3.4" fill="#111111"/>
<rect x="145.2" y="315.0" width="3.4" height="3.4" fill="#111111"/>
<rect x="146.6" y="313.7" width="3.4" height="3.4" fill="#111111"/>
<rect x="147.9" y="313.8" width="3.4" height="3.4" fill="#111111"/>
<rect x="149.2" y="313.7" width="3.4" height="3.4" fill="#111111"/>
<rect x="150.6" y="312.8" width="3.4" height="3.4" fill="#111111"/>
<rect x="152.0" y="313.3" width="3.4" height="3.4" fill="#111111"/>
<rect x="152.8" y="312.3" width="3.4" height="3.4" fill="#111111"/>
</g>
<rect x="64.1" y="14.1" width="465.9" height="315.4" fill="none" stroke="#6f6f6f" stroke-width="1.7" stroke-linejoin="round"/>
<rect x="99.9" y="50.5" width="165.9" height="133.1" fill="#fff" stroke="#000" stroke-width="1.7"/>
<circle cx="113.8" cy="70.9" r="4.2" fill="#3e61a6"/>
<path d="M112.4 83.3h3v2.5h2.5v3h-2.5v2.5h-3v-2.5h-2.5v-3h2.5Z" fill="#f4ad28"/>
<rect x="111.1" y="100.5" width="6" height="6" fill="#399c3b"/>
<path d="M113.9 117.9L118.3 125.2L109.5 125.2Z" fill="#e8352b"/>
<path d="M114.1 135.1L117.6 138.6L114.1 142.1L110.6 138.6Z" fill="#efe73c"/>
<rect x="112" y="154.8" width="4.2" height="4.2" fill="#111111"/>
<g font-family="Liberation Sans, sans-serif" font-size="10" fill="#1a1a1a" stroke="#1a1a1a" stroke-width="0.2">
<text x="122.6" y="73.3">Wang et al. (2014)</text>
<text x="122.6" y="90.0">Yazdi et al. (2017)</text>
<text x="122.6" y="107.3">Zhang et al. (2020)</text>
<text x="122.6" y="124.1">Tanyimboh and Seyoum (2020)</text>
<text x="122.6" y="141.4">Palod et al. (2022)</text>
<text x="122.6" y="159.6">This work</text>
</g>
<g font-family="Liberation Sans, sans-serif" font-size="15.8" fill="#111" stroke="#111" stroke-width="0.3">
<text x="50.2" y="336.5" text-anchor="end">0</text>
<text x="50.2" y="271.3" text-anchor="end">1</text>
<text x="50.2" y="208.0" text-anchor="end">2</text>
<text x="50.2" y="145.6" text-anchor="end">3</text>
<text x="50.2" y="81.0" text-anchor="end">4</text>
<text x="50.2" y="20.1" text-anchor="end">5</text>
<text x="62" y="349.6" text-anchor="middle">0.0</text>
<text x="299" y="349.6" text-anchor="middle">0.5</text>
<text x="529.5" y="349.6" text-anchor="middle">1.0</text>
<text x="301.8" y="375.6" text-anchor="middle" font-size="16.5">Network Resilience</text>
<text transform="translate(24.6 177.3) rotate(-90)" text-anchor="middle" font-size="16.3">Cost (USD million)</text>
</g>
</svg>
</body></html>
